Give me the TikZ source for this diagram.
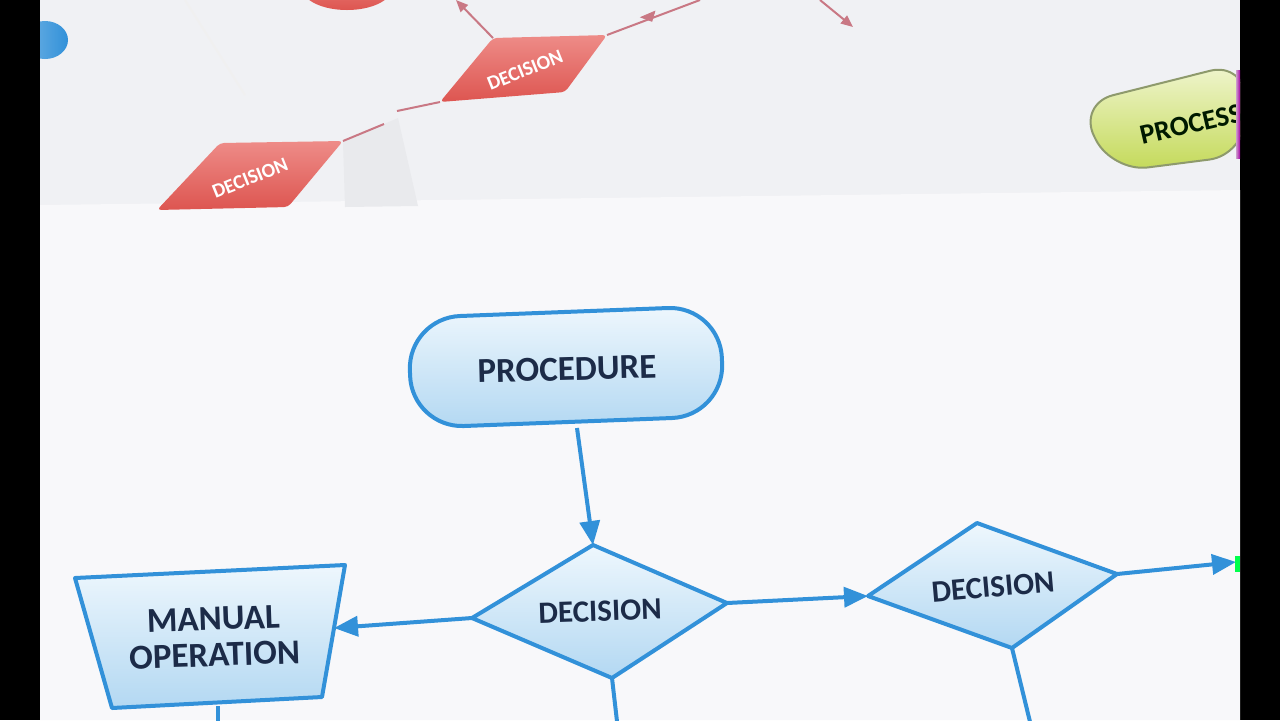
\documentclass[tikz,border=0pt]{standalone}
\usepackage{fontspec}
\setmainfont{Carlito}
\usepackage{tikz}
\usetikzlibrary{arrows.meta}
\usetikzlibrary{calc}
\usetikzlibrary{positioning}
\definecolor{flowblue}{HTML}{3291D9}
\definecolor{bluetop}{HTML}{EEF7FD}
\definecolor{bluebot}{HTML}{B3D8F2}
\definecolor{navy}{HTML}{1C2B48}
\definecolor{redtop}{HTML}{EE8C88}
\definecolor{redbot}{HTML}{DD5550}
\definecolor{redline}{HTML}{C97884}
\definecolor{greentop}{HTML}{F1F6D2}
\definecolor{greenbot}{HTML}{C3D957}
\definecolor{greenline}{HTML}{8E9A6C}
\definecolor{paperup}{HTML}{F0F1F4}
\definecolor{paperlow}{HTML}{F8F8FA}
\tikzstyle{blueshape} = [draw=flowblue, line width=2pt, line join=round,
top color=bluetop, bottom color=bluebot]
\tikzstyle{redshape} = [top color=redtop, bottom color=redbot, rounded corners=2pt]
\tikzstyle{label} = [font=\bfseries\fontsize{17.5}{19}\selectfont, text=navy,
align=center, inner sep=0pt]
\tikzstyle{faded} = [font=\bfseries\fontsize{10}{11}\selectfont, text=white, inner sep=0pt]
\tikzstyle{conn} = [draw=flowblue, line width=2pt,
-{Triangle[length=12pt,width=10pt]}]
\tikzstyle{line} = [draw=flowblue, line width=2pt]
\tikzstyle{redconn} = [draw=redline, line width=1pt,
-{Triangle[length=6pt,width=5pt]}]

\begin{document}
\begin{tikzpicture}[x=0.5pt, y=-0.5pt]
	\useasboundingbox (0,0) rectangle (1280,720);
	\fill[black] (0,0) rectangle (1280,720);
	\begin{scope}
		\clip (40,0) rectangle (1240,720);
		% papers
		\fill[paperup] (40,0) rectangle (1240,220);
		\draw[black!6, line width=1pt] (185,0) -- (245,95);
		\fill[paperlow] (40,205) -- (1240,190) -- (1240,720) -- (40,720) -- cycle;
		\fill[black!3!paperup] (343,142) -- (398,118) -- (418,206) -- (345,207) -- cycle;
		
		% faded chart at the top
		\shade[left color=flowblue!70!white, right color=flowblue] (45,40) ellipse (23 and 19);
		\shade[redshape] (347,-12) ellipse (45 and 22);
		
		\coordinate (ra1) at (493,38);
		\coordinate (ra2) at (607,35);
		\coordinate (ra3) at (565,92);
		\coordinate (ra4) at (440,102);
		\shade[redshape] (ra1) -- (ra2) -- (ra3) -- (ra4) -- cycle;
		\node[faded, rotate=22] (redA) at (525,70) {DECISION};
		
		\coordinate (rb1) at (220,143);
		\coordinate (rb2) at (343,141);
		\coordinate (rb3) at (288,207);
		\coordinate (rb4) at (157,210);
		\shade[redshape] (rb1) -- (rb2) -- (rb3) -- (rb4) -- cycle;
		\node[faded, rotate=22] (redB) at (250,178) {DECISION};
		
		\coordinate (rt1) at (456,0);
		\coordinate (rt2) at (700,0);
		\coordinate (rt3) at (820,0);
		\coordinate (rt4) at (853,27);
		\coordinate (rg1) at (397,111);
		\coordinate (rg2) at (384,124);
		\draw[redconn] (ra1) -- (rt1);
		\draw[redline, line width=1pt] (ra2) -- (rt2);
		\draw[redline, fill=redline] ($(ra2)!0.45!(rt2)$) ++(-8,-2) -- ++(14,-6) -- ++(-3,10) -- cycle;
		\draw[redconn] (rt3) -- (rt4);
		\draw[redline, line width=1pt] (ra4) -- (rg1);
		\draw[redline, line width=1pt] (rb2) -- (rg2);
		
		% green process and purple edge
		\shade[draw=greenline, line width=1pt, top color=greentop, bottom color=greenbot,
		rounded corners=18pt] (1078,104) -- (1245,62) -- (1245,155) -- (1112,172) -- cycle;
		\node[font=\bfseries\fontsize{14}{15}\selectfont, text=black!75!green!40!black,
		rotate=13, anchor=west, inner sep=0pt] (proc2) at (1140,136) {PROCESS};
		\shade[left color=violet!40!white, right color=violet!70!magenta] (1236,70) rectangle (1240,158);
		
		% main chart
		\coordinate (pa) at (408,318);
		\coordinate (pb) at (720,306);
		\coordinate (pc) at (724,416);
		\coordinate (pd) at (412,428);
		\shade[blueshape, rounded corners=26pt] (pa) -- (pb) -- (pc) -- (pd) -- cycle;
		\node[label, rotate=1.5] (procedure) at (567,369) {PROCEDURE};
		
		\coordinate (d1t) at (593,545);
		\coordinate (d1r) at (727,603);
		\coordinate (d1b) at (612,678);
		\coordinate (d1l) at (472,618);
		\shade[blueshape] (d1t) -- (d1r) -- (d1b) -- (d1l) -- cycle;
		\node[label, font=\bfseries\fontsize{15.5}{17}\selectfont, rotate=2] (decision1) at (600,611) {DECISION};
		
		\coordinate (d2l) at (868,596);
		\coordinate (d2t) at (977,523);
		\coordinate (d2r) at (1117,574);
		\coordinate (d2b) at (1012,648);
		\shade[blueshape] (d2l) -- (d2t) -- (d2r) -- (d2b) -- cycle;
		\node[label, font=\bfseries\fontsize{15.5}{17}\selectfont, rotate=5] (decision2) at (993,587) {DECISION};
		
		\coordinate (ma) at (75,578);
		\coordinate (mb) at (345,565);
		\coordinate (mc) at (322,697);
		\coordinate (md) at (112,708);
		\shade[blueshape] (ma) -- (mb) -- (mc) -- (md) -- cycle;
		\node[label, rotate=2] (manual) at (214,637) {MANUAL\\[-1pt]OPERATION};
		
		\coordinate (p1) at (577,428);
		\coordinate (p2) at (334,628);
		\coordinate (p3) at (218,706);
		\coordinate (p4) at (218,730);
		\coordinate (p5) at (618,730);
		\coordinate (p6) at (1236,562);
		\coordinate (p7) at (1032,730);
		
		\draw[conn] (p1) -- (d1t);
		\draw[conn] (d1l) -- (p2);
		\draw[conn] (d1r) -- (d2l);
		\draw[conn] (d2r) -- (p6);
		\draw[line] (p3) -- (p4);
		\draw[line] (d1b) -- (p5);
		\draw[line] (d2b) -- (p7);
		\fill[green!70!cyan] (1235,556) rectangle (1240,572);
	\end{scope}
\end{tikzpicture}
\end{document}
